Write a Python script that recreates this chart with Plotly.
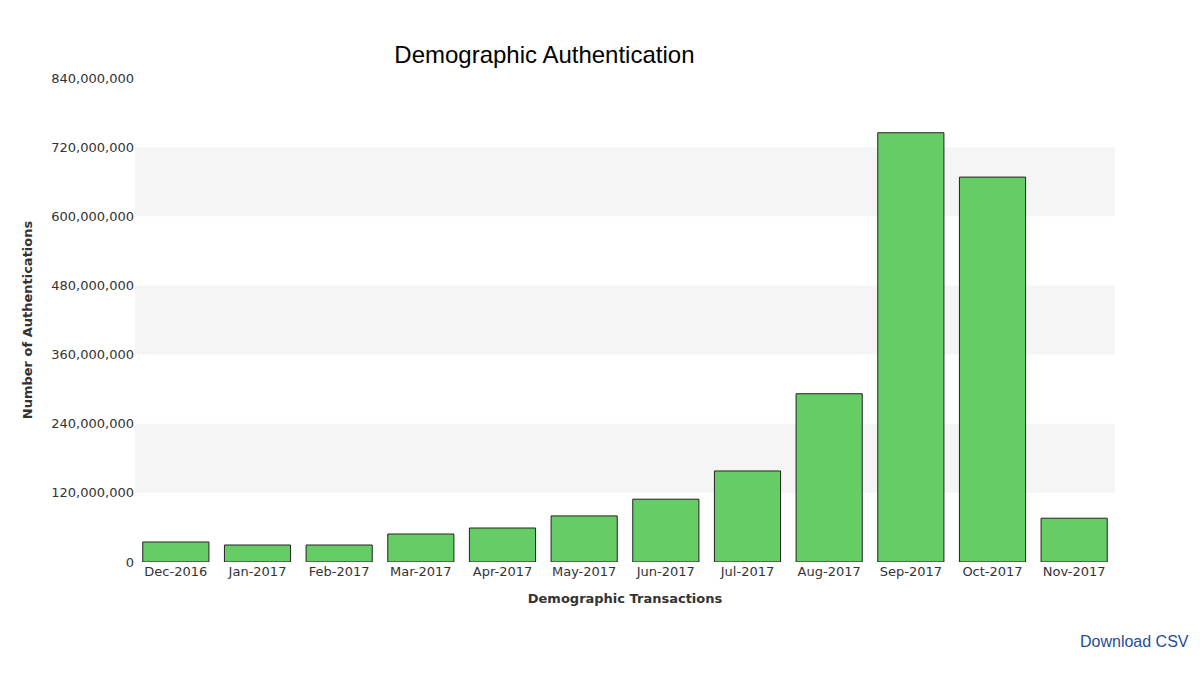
import plotly.graph_objects as go

months = ["Dec-2016","Jan-2017","Feb-2017","Mar-2017","Apr-2017","May-2017",
          "Jun-2017","Jul-2017","Aug-2017","Sep-2017","Oct-2017","Nov-2017"]
auths = [34.7e6, 29.5e6, 29.5e6, 48.6e6, 59e6, 80e6, 109e6, 158e6, 292e6, 745e6, 668e6, 76e6]
tick_vals = [0, 120e6, 240e6, 360e6, 480e6, 600e6, 720e6, 840e6]

fig = go.Figure(go.Bar(x=months, y=auths, marker=dict(color="#66cc66", line=dict(color="#222", width=1)),
                       hovertemplate="%{x}: %{y:,}<extra></extra>"))

shapes = []
for i in range(1, len(tick_vals) - 1, 2):
    shapes.append(dict(type="rect", xref="paper", yref="y", x0=0, x1=1,
                       y0=tick_vals[i], y1=tick_vals[i + 1], fillcolor="#f5f5f5",
                       line=dict(width=0), layer="below"))

fig.update_layout(
    width=1200, height=692, paper_bgcolor="white", plot_bgcolor="white",
    margin=dict(l=127, r=93, t=70, b=138),
    title=dict(text="Demographic Authentication", x=0.447, xanchor="center", y=0.945,
               font=dict(family="Liberation Sans, Arial", size=24, color="black")),
    font=dict(family="DejaVu Sans, Verdana", size=13, color="#333"),
    bargap=0.19, shapes=shapes, showlegend=False,
    xaxis=dict(showgrid=False, ticks="", title=dict(text="<b>Demographic Transactions</b>", font=dict(size=13)), zeroline=False),
    yaxis=dict(range=[0, 840e6], tickvals=tick_vals, tickformat=",d", showgrid=False, zeroline=False,
               title=dict(text="<b>Number of Authentications</b>", font=dict(size=13))),
    annotations=[dict(text="Download CSV", xref="paper", yref="paper", x=1.078, y=-0.165,
                      xanchor="right", yanchor="middle", showarrow=False,
                      font=dict(family="Liberation Sans, Arial", size=16, color="#1f4e9a"))],
)
fig.write_html("out.html")
